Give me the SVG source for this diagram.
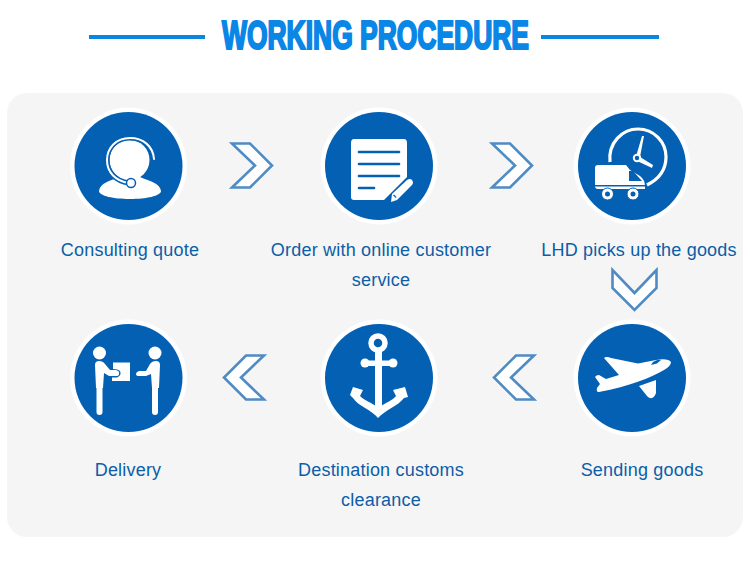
<svg xmlns="http://www.w3.org/2000/svg" width="750" height="570" viewBox="0 0 750 570">
<style>
.lbl{font-family:"Liberation Sans",Arial,sans-serif;font-size:18px;letter-spacing:.2px;fill:#0b5ea8;text-anchor:middle}
.ring{fill:#fff}
.disc{fill:#0360b3}
.ico{fill:#fff}
.cut{fill:#0360b3}
.icl{fill:none;stroke:#fff;stroke-linecap:round;stroke-linejoin:round}
.chev{fill:#fff;stroke:#4f8bc4;stroke-width:2.600;stroke-linejoin:miter}
.rule{stroke:#0a86e0;stroke-width:4}
</style>
<defs>
<g id="badge"><circle class="ring" r="58.500"/><circle class="disc" r="54"/></g>
<polygon id="chevR" points="-20,-22 -2,-22 20,0 -2,22 -20,22 3,0" class="chev"/>
</defs>
<rect width="750" height="570" fill="#fff"/>
<g id="title">
<line class="rule" x1="89" y1="37" x2="205" y2="37"/>
<line class="rule" x1="541" y1="37" x2="659" y2="37"/>
<text x="222" y="49" font-family="'Liberation Sans',Arial,sans-serif" font-size="40" font-weight="700" fill="#0a86e6" stroke="#0a86e6" stroke-width="2.200" textLength="307" lengthAdjust="spacingAndGlyphs">WORKING PROCEDURE</text>
</g>
<rect id="panel" x="7" y="93" width="736" height="444" rx="20" fill="#f5f5f5"/>
<g id="connectors">
<use href="#chevR" transform="translate(252,165.500)"/>
<use href="#chevR" transform="translate(512,165.500)"/>
<use href="#chevR" transform="translate(634.500,290) rotate(90)"/>
<use href="#chevR" transform="translate(514,377.500) rotate(180)"/>
<use href="#chevR" transform="translate(244,377.500) rotate(180)"/>
</g>
<g id="node-consulting">
<use href="#badge" transform="translate(128.500,166)"/>
<circle class="ico" cx="129.500" cy="160" r="20"/>
<path class="ico" d="M99,191 C100,183 110,181 119,177 L140,177 C149,181 160,183 161,191 C161,196 146,199 130,199 C114,199 99,196 99,191Z"/>
<path class="icl" style="stroke:#0360b3" stroke-width="5" d="M154,159 C153,146 143,138 130,138 C116,138 107,148 107,160 C107,172 115,181 129,183"/>
<path class="icl" stroke-width="2" d="M154,159 C153,146 143,138 130,138 C116,138 107,148 107,160 C107,172 115,181 129,183"/>
<circle cx="131" cy="183" r="4.500" fill="#fff" stroke="#0360b3" stroke-width="1.500"/>
<text class="lbl" x="130" y="256">Consulting quote</text>
</g>
<g id="node-order">
<use href="#badge" transform="translate(379,166)"/>
<path class="ico" d="M354,139 H404 Q407,139 407,143 V177 L384,200 H354 Q351,200 351,197 V143 Q351,139 354,139Z"/>
<g stroke="#0360b3" stroke-width="2.600" stroke-linecap="round">
<line x1="359" y1="152" x2="399" y2="152"/>
<line x1="359" y1="164" x2="399" y2="164"/>
<line x1="359" y1="176" x2="399" y2="176"/>
<line x1="359" y1="188" x2="374" y2="188"/>
</g>
<path class="ico" d="M392,194 L407,180 Q410,178 412,180 L413,182 Q413,184 412,185 L397,200 L391,202Z"/>
<path class="cut" d="M394,194.500 L395,195.500 L396.500,197 L396,198 L393,195.500Z"/>
<text class="lbl" x="381" y="256">Order with online customer</text>
<text class="lbl" x="381" y="286">service</text>
</g>
<g id="node-pickup">
<use href="#badge" transform="translate(632,166)"/>
<path class="icl" style="stroke-linecap:butt" stroke-width="3.200" d="M610,162 C608,143 622,129 638,129 C654,129 666,142 666,157 C666,172 657,180 647,185"/>
<path class="ico" d="M642,136 L644,136 L640,157 L653,165 L652,168 L635,160Z"/>
<circle cx="637" cy="158" r="3.200" fill="#0360b3" stroke="#fff" stroke-width="2"/>
<path class="ico" d="M598,165 H626 L630,170 L640,176 Q645,180 645,186 V189 H598 Q595,189 595,186 V168 Q595,165 598,165Z"/>
<path class="cut" d="M629,171 H633 L642,181 H629Z"/>
<path class="cut" d="M595,185 H645 V186.500 H595Z"/>
<circle cx="607.500" cy="194" r="6" fill="#fff" stroke="#0360b3" stroke-width="1"/><circle cx="607.500" cy="194" r="2.500" class="cut"/>
<circle cx="633" cy="194" r="6" fill="#fff" stroke="#0360b3" stroke-width="1"/><circle cx="633" cy="194" r="2.500" class="cut"/>
<text class="lbl" x="639" y="256">LHD picks up the goods</text>
</g>
<g id="node-sending">
<use href="#badge" transform="translate(632,378)"/>
<path class="ico" d="M604,358 Q606,356 611,358 L638,363.500 L656,360 Q668,358 671,362 Q671,366 664,370 C650,378 630,386 599,392 Q596,392.500 597,388 L600,384 L595,377 Q596,375 599,375 L606,379 L619,375Z"/>
<path class="ico" d="M639,386 L656,380 L656,393 Q654,399 650,398 Q648,397.500 647,396Z"/>
<path class="cut" d="M653,362 Q658,359 661,360 L657,363.500 L651,365Z"/>
<text class="lbl" x="642" y="476">Sending goods</text>
</g>
<g id="node-customs">
<use href="#badge" transform="translate(379,378)"/>
<circle cx="378" cy="343" r="7" fill="none" stroke="#fff" stroke-width="5.500"/>
<rect class="ico" x="375" y="350" width="7" height="60"/>
<rect class="ico" x="361" y="360.500" width="36" height="5.500" rx="2.700"/>
<circle class="ico" cx="365" cy="363" r="4.500"/><circle class="ico" cx="393" cy="363" r="4.500"/>
<path class="ico" d="M378,418 C372,410 358,406 353,398 L350,395 L353,387 L363,390 L360,396 C365,401 372,403 376,406 H381 C385,403 392,401 396,396 L393,390 L405,387 L408,397 L404,398 C398,406 385,410 378,418Z"/>
<text class="lbl" x="381" y="476">Destination customs</text>
<text class="lbl" x="381" y="506">clearance</text>
</g>
<g id="node-delivery">
<use href="#badge" transform="translate(128.500,378)"/>
<circle class="ico" cx="99.500" cy="353" r="6.500"/><circle class="ico" cx="155" cy="353" r="6.500"/>
<path class="ico" d="M95,365 Q95,361 99,361 Q103,361 105,364 L110,370 H116 Q120,371 119,374 Q119,376 116,376 H109 L104,373 L103,388 H96Z"/>
<path class="ico" d="M160,365 Q160,361 156,361 Q152,361 150,364 L146,371 H139 Q136,372 136,374 Q136,376 139,376 H146 L151,374 L152,388 H159Z"/>
<rect class="ico" x="96.500" y="384" width="6" height="31" rx="3"/><rect class="ico" x="152" y="384" width="6" height="31" rx="3"/>
<path class="ico" d="M113,362.500 H130 V381 H112 V377.500 H117 Q122,375 120,371 Q118,369 113,369Z"/>
<text class="lbl" x="128" y="476">Delivery</text>
</g>
</svg>
